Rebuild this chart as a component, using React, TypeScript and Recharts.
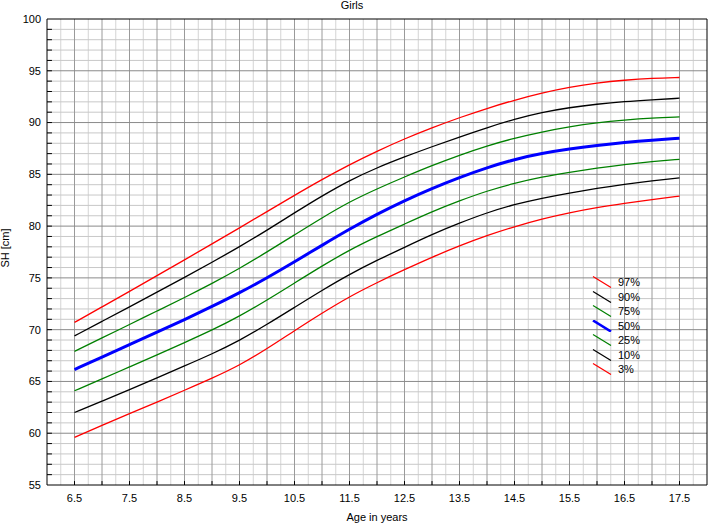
import React from "react";
import { LineChart, Line, XAxis, YAxis, ReferenceLine, Legend } from "recharts";

const ages = [6.5, 7, 7.5, 8, 8.5, 9, 9.5, 10, 10.5, 11, 11.5, 12, 12.5, 13, 13.5, 14, 14.5, 15, 15.5, 16, 16.5, 17, 17.5];
const p97 = [70.7, 72.2, 73.7, 75.22, 76.74, 78.28, 79.83, 81.4, 82.98, 84.51, 85.94, 87.24, 88.43, 89.5, 90.48, 91.37, 92.17, 92.87, 93.42, 93.83, 94.1, 94.28, 94.35];
const p90 = [69.4, 70.8, 72.2, 73.62, 75.05, 76.51, 78.0, 79.6, 81.28, 82.92, 84.42, 85.64, 86.69, 87.67, 88.61, 89.51, 90.33, 90.99, 91.45, 91.78, 92.03, 92.2, 92.35];
const p75 = [67.9, 69.2, 70.5, 71.8, 73.1, 74.45, 75.9, 77.5, 79.15, 80.8, 82.35, 83.6, 84.75, 85.85, 86.85, 87.75, 88.5, 89.1, 89.6, 89.98, 90.25, 90.45, 90.55];
const p50 = [66.15, 67.35, 68.55, 69.75, 70.97, 72.23, 73.55, 75.0, 76.55, 78.15, 79.71, 81.16, 82.46, 83.64, 84.7, 85.65, 86.45, 87.03, 87.45, 87.79, 88.08, 88.31, 88.48];
const p25 = [64.1, 65.25, 66.4, 67.55, 68.75, 69.95, 71.3, 72.85, 74.5, 76.15, 77.7, 79.0, 80.2, 81.4, 82.45, 83.4, 84.15, 84.75, 85.2, 85.6, 85.95, 86.23, 86.45];
const p10 = [62.0, 63.1, 64.2, 65.35, 66.5, 67.65, 68.95, 70.5, 72.15, 73.8, 75.35, 76.7, 77.95, 79.2, 80.3, 81.3, 82.1, 82.7, 83.2, 83.65, 84.05, 84.38, 84.65];
const p3 = [59.6, 60.75, 61.9, 63.0, 64.15, 65.3, 66.55, 68.15, 69.9, 71.6, 73.2, 74.55, 75.8, 77.0, 78.1, 79.1, 79.95, 80.7, 81.3, 81.8, 82.2, 82.57, 82.9];

const xTicks = [6.5, 7.5, 8.5, 9.5, 10.5, 11.5, 12.5, 13.5, 14.5, 15.5, 16.5, 17.5];
const yTicks = [55, 60, 65, 70, 75, 80, 85, 90, 95, 100];

const series = [
  { key: "p97", name: "97%", values: p97, color: "#ff0000", width: 1.3 },
  { key: "p90", name: "90%", values: p90, color: "#000000", width: 1.3 },
  { key: "p75", name: "75%", values: p75, color: "#008000", width: 1.3 },
  { key: "p50", name: "50%", values: p50, color: "#0000ff", width: 3 },
  { key: "p25", name: "25%", values: p25, color: "#008000", width: 1.3 },
  { key: "p10", name: "10%", values: p10, color: "#000000", width: 1.3 },
  { key: "p3", name: "3%", values: p3, color: "#ff0000", width: 1.3 },
];

const data = ages.map((a, i) => {
  const row: any = { age: a };
  series.forEach((s) => (row[s.key] = s.values[i]));
  return row;
});

const X0 = 6, X1 = 18, Y0 = 55, Y1 = 100;
const FONT = "'Liberation Sans', Arial, sans-serif";

const vMinor: number[] = [];
const vMajor: number[] = [];
for (let k = 1; k < (X1 - X0) * 4; k++) {
  const v = X0 + k * 0.25;
  if (k % 2 === 0) vMajor.push(v); else vMinor.push(v);
}
const hMinor: number[] = [];
const hMajor: number[] = [];
for (let v = Y0 + 1; v < Y1; v++) {
  if (v % 5 === 0) hMajor.push(v); else hMinor.push(v);
}
const bottomTicks: number[] = [];
for (let k = 1; k < (X1 - X0) * 2; k++) bottomTicks.push(X0 + k * 0.5);

const LegendContent = () => (
  <div style={{ fontFamily: FONT, fontSize: 11, color: "#000" }}>
    {series.map((s) => (
      <div key={s.key} style={{ display: "flex", alignItems: "center", height: 14.5 }}>
        <svg width={20} height={12} style={{ display: "block" }}>
          <line x1={1} y1={0.5} x2={19} y2={11.5} stroke={s.color} strokeWidth={s.width === 3 ? 2.6 : 1.2} />
        </svg>
        <span style={{ marginLeft: 6, lineHeight: "12px" }}>{s.name}</span>
      </div>
    ))}
  </div>
);

export default function App() {
  return (
    <div style={{ position: "absolute", left: 0, top: 0, width: 708, height: 525, background: "#fff" }}>
      <LineChart
        width={708}
        height={525}
        data={data}
        margin={{ top: 19, right: 1, bottom: 0, left: 0 }}
        style={{ fontFamily: FONT }}
      >
        <XAxis
          dataKey="age"
          type="number"
          domain={[X0, X1]}
          ticks={xTicks}
          interval={0}
          height={40}
          tickLine={false}
          axisLine={{ stroke: "#000" }}
          tickSize={6}
          tickMargin={3}
          tick={{ fill: "#000", fontSize: 11, fontFamily: FONT }}
          allowDataOverflow
        />
        <YAxis
          type="number"
          domain={[Y0, Y1]}
          ticks={yTicks}
          interval={0}
          width={47}
          tickLine={false}
          axisLine={{ stroke: "#000" }}
          tickSize={4}
          tickMargin={2}
          tick={{ fill: "#000", fontSize: 11, fontFamily: FONT }}
          allowDataOverflow
        />
        {vMinor.map((v) => (
          <ReferenceLine key={"vm" + v} x={v} stroke="#d4d4d4" strokeWidth={1} />
        ))}
        {hMinor.map((v) => (
          <ReferenceLine key={"hm" + v} y={v} stroke="#c8c8c8" strokeWidth={1} />
        ))}
        {vMajor.map((v) => (
          <ReferenceLine key={"vM" + v} x={v} stroke="#9a9a9a" strokeWidth={1} />
        ))}
        {hMajor.map((v) => (
          <ReferenceLine key={"hM" + v} y={v} stroke="#8a8a8a" strokeWidth={1} />
        ))}
        {hMinor.concat(hMajor).map((v) => (
          <ReferenceLine key={"lt" + v} segment={[{ x: X0, y: v }, { x: X0 + 0.09, y: v }]} stroke="#000" strokeWidth={1} />
        ))}
        {bottomTicks.map((v) => (
          <ReferenceLine key={"bt" + v} segment={[{ x: v, y: Y0 }, { x: v, y: Y0 + 0.38 }]} stroke="#000" strokeWidth={1} />
        ))}
        <ReferenceLine y={Y1} stroke="#000" strokeWidth={1} />
        <ReferenceLine x={X1} stroke="#000" strokeWidth={1} />
        {series.map((s) => (
          <Line
            key={s.key}
            dataKey={s.key}
            name={s.name}
            type="basis"
            stroke={s.color}
            strokeWidth={s.width}
            dot={false}
            activeDot={false}
            isAnimationActive={false}
          />
        ))}
        <Legend
          layout="vertical"
          align="center"
          verticalAlign="middle"
          content={<LegendContent />}
          wrapperStyle={{ position: "absolute", left: 592, top: 275, width: 60, height: 105 }}
        />
      </LineChart>
      <svg width={708} height={525} style={{ position: "absolute", left: 0, top: 0, pointerEvents: "none" }}>
        <text x={352} y={9} textAnchor="middle" fontSize={11} fontFamily={FONT} fill="#000">Girls</text>
        <text x={377} y={521} textAnchor="middle" fontSize={11} fontFamily={FONT} fill="#000">Age in years</text>
        <text transform="translate(8.5,248) rotate(-90)" textAnchor="middle" fontSize={11} fontFamily={FONT} fill="#000">SH [cm]</text>
      </svg>
    </div>
  );
}
